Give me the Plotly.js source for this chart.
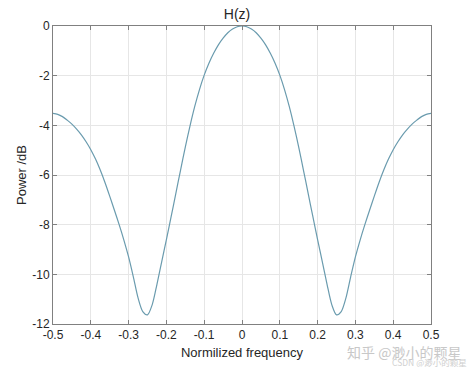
<!DOCTYPE html>
<html>
<head>
<meta charset="utf-8">
<script src="https://cdn.plot.ly/plotly-3.0.1.min.js"></script>
<style>html,body{margin:0;padding:0;background:#fff;}#chart{width:474px;height:367px;}</style>
</head>
<body>
<div id="chart"></div>
<script>
// Normalized frequency and power (dB)
const freq = [-0.5,-0.4875,-0.475,-0.4625,-0.45,-0.4375,-0.425,-0.4125,-0.4,-0.3875,-0.375,-0.3625,-0.35,-0.3375,-0.325,-0.3125,-0.3,-0.2875,-0.275,-0.2625,-0.25,-0.2375,-0.225,-0.2125,-0.2,-0.1875,-0.175,-0.1625,-0.15,-0.1375,-0.125,-0.1125,-0.1,-0.0875,-0.075,-0.0625,-0.05,-0.0375,-0.025,-0.0125,0,
              0.0125,0.025,0.0375,0.05,0.0625,0.075,0.0875,0.1,0.1125,0.125,0.1375,0.15,0.1625,0.175,0.1875,0.2,0.2125,0.225,0.2375,0.25,0.2625,0.275,0.2875,0.3,0.3125,0.325,0.3375,0.35,0.3625,0.375,0.3875,0.4,0.4125,0.425,0.4375,0.45,0.4625,0.475,0.4875,0.5];
const power = [-3.52,-3.56,-3.65,-3.79,-3.95,-4.15,-4.38,-4.66,-4.98,-5.36,-5.8,-6.3,-6.85,-7.42,-8.0,-8.62,-9.3,-10.1,-10.95,-11.5,-11.63,-11.22,-10.4,-9.5,-8.6,-7.68,-6.74,-5.8,-4.88,-4.02,-3.24,-2.56,-1.98,-1.5,-1.1,-0.76,-0.49,-0.27,-0.12,-0.03,0,
               -0.03,-0.12,-0.27,-0.49,-0.76,-1.1,-1.5,-1.98,-2.56,-3.24,-4.02,-4.88,-5.8,-6.74,-7.68,-8.6,-9.5,-10.4,-11.22,-11.63,-11.5,-10.95,-10.1,-9.3,-8.62,-8.0,-7.42,-6.85,-6.3,-5.8,-5.36,-4.98,-4.66,-4.38,-4.15,-3.95,-3.79,-3.65,-3.56,-3.52];
const xTickVals = [-0.5,-0.4,-0.3,-0.2,-0.1,0,0.1,0.2,0.3,0.4,0.5];
const xTickText = ["-0.5","-0.4","-0.3","-0.2","-0.1","0","0.1","0.2","0.3","0.4","0.5"];
const yTickVals = [0,-2,-4,-6,-8,-10,-12];
const yTickText = ["0","-2","-4","-6","-8","-10","-12"];

const FAMILY = 'Liberation Sans, Arial, sans-serif';
const font = {family: FAMILY, size: 12, color: '#262626'};
const axisCommon = {
  showline: true, mirror: 'ticks', linecolor: '#808080', linewidth: 1,
  ticks: 'inside', ticklen: 4, tickcolor: '#808080', tickwidth: 1,
  showgrid: true, gridcolor: '#e6e6e6', gridwidth: 1, zeroline: false,
  tickfont: font, tickmode: 'array'
};
const trace = {
  x: freq, y: power, type: 'scatter', mode: 'lines',
  line: {color: '#6a9bae', width: 1.2, shape: 'spline', smoothing: 0.8}
};
const layout = {
  width: 474, height: 367,
  margin: {l: 53, r: 43, t: 26, b: 43},
  paper_bgcolor: '#ffffff', plot_bgcolor: '#ffffff',
  showlegend: false,
  title: {text: 'H(z)', font: {family: FAMILY, size: 14, color: '#262626'}, x: 0.5, xanchor: 'center', y: 0.962, yanchor: 'middle'},
  xaxis: Object.assign({}, axisCommon, {
    range: [-0.5, 0.5], tickvals: xTickVals, ticktext: xTickText,
    title: {text: 'Normilized frequency', font: {family: FAMILY, size: 13, color: '#262626'}, standoff: 6}
  }),
  yaxis: Object.assign({}, axisCommon, {
    range: [-12, 0], tickvals: yTickVals, ticktext: yTickText,
    title: {text: 'Power /dB', font: {family: FAMILY, size: 13, color: '#262626'}, standoff: 2}
  }),
  annotations: [
    {text: '知乎 @渺小的颗星', xref: 'paper', yref: 'paper', x: 1.085, y: -0.093, xanchor: 'right', yanchor: 'middle', showarrow: false,
     font: {family: 'Noto Sans CJK SC, sans-serif', size: 14, color: '#c8c8c8'}},
    {text: 'CSDN @渺小的颗星', xref: 'paper', yref: 'paper', x: 1.1, y: -0.129, xanchor: 'right', yanchor: 'middle', showarrow: false,
     font: {family: 'Noto Sans CJK SC, sans-serif', size: 8.5, color: '#d0d0d0'}}
  ]
};
Plotly.newPlot('chart', [trace], layout, {displayModeBar: false, staticPlot: true});
</script>
</body>
</html>
